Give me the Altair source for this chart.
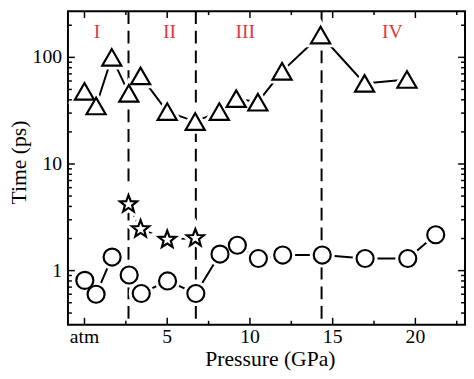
import altair as alt
import pandas as pd

# ---- data ----
tri_p = [0.0, 0.7, 1.65, 2.68, 3.39, 5.0, 6.69, 8.15, 9.17, 10.48, 11.94, 14.27, 16.93, 19.49]
tri_t = [48, 35, 100, 46, 67, 31, 25, 31, 41, 38, 74, 162, 57, 62]

star_p = [2.66, 3.39, 5.0, 6.7]
star_t = [4.2, 2.45, 1.95, 2.02]

circ_p = [0.02, 0.7, 1.67, 2.7, 3.43, 5.02, 6.73, 8.19, 9.24, 10.51, 11.98, 14.37, 16.96, 19.54, 21.23]
circ_t = [0.81, 0.60, 1.34, 0.91, 0.61, 0.80, 0.61, 1.43, 1.73, 1.30, 1.40, 1.40, 1.30, 1.30, 2.17]

boundaries = [2.66, 6.73, 14.33]

phase_labels = ["I", "II", "III", "IV"]
phase_x = [0.75, 5.14, 9.72, 18.61]
phase_y = [173, 173, 173, 173]

x_major = [0, 5, 10, 15, 20]
x_major_labels = ["atm", "5", "10", "15", "20"]
x_minor = [2.5, 7.5, 12.5, 17.5, 22.5]
y_major = [1, 10, 100]
y_major_labels = ["1", "10", "100"]
y_minor = [0.4, 0.5, 0.6, 0.7, 0.8, 0.9, 2, 3, 4, 5, 6, 7, 8, 9,
           20, 30, 40, 50, 60, 70, 80, 90, 200]

x_title = "Pressure (GPa)"
y_title = "Time (ps)"

# ---- layout ----
W, H = 404, 319
FONT = "'Liberation Serif', serif"

STAR = ("M0,-1L0.2469,-0.3398L0.9511,-0.309L0.3995,0.1298L0.5878,0.809L0,0.42"
        "L-0.5878,0.809L-0.3995,0.1298L-0.9511,-0.309L-0.2469,-0.3398Z")

xs = alt.Scale(domain=[-1, 23], nice=False, zero=False)
ys = alt.Scale(type="log", domain=[0.311, 271], nice=False)

tri = pd.DataFrame({"p": tri_p, "t": tri_t, "s": "tri"})
star = pd.DataFrame({"p": star_p, "t": star_t, "s": "star"})
circ = pd.DataFrame({"p": circ_p, "t": circ_t, "s": "circ"})
pts = pd.concat([tri, star, circ], ignore_index=True)

shape_scale = alt.Scale(domain=["tri", "star", "circ"], range=["triangle-up", STAR, "circle"])
size_scale = alt.Scale(domain=["tri", "star", "circ"], range=[380, 300, 300])

X = lambda: alt.X("p:Q", scale=xs, axis=None)
Y = lambda: alt.Y("t:Q", scale=ys, axis=None)

vlines = alt.Chart(pd.DataFrame({"p": boundaries})).mark_rule(
    color="black", strokeWidth=2, strokeDash=[13, 7]).encode(x=X())

line_tri = alt.Chart(tri).mark_line(color="black", strokeWidth=2).encode(x=X(), y=Y())
line_circ = alt.Chart(circ).mark_line(color="black", strokeWidth=2).encode(x=X(), y=Y())
line_star = alt.Chart(star).mark_line(color="black", strokeWidth=2, strokeDash=[5, 4]).encode(x=X(), y=Y())

halo = alt.Chart(pts).mark_point(filled=False, fill="white", fillOpacity=1, stroke="white",
                                 strokeWidth=8, opacity=1).encode(
    x=X(), y=Y(),
    shape=alt.Shape("s:N", scale=shape_scale, legend=None),
    size=alt.Size("s:N", scale=size_scale, legend=None))

markers = alt.Chart(pts).mark_point(filled=False, fill="white", fillOpacity=1, stroke="black",
                                    strokeWidth=2.2, opacity=1).encode(
    x=X(), y=Y(),
    shape=alt.Shape("s:N", scale=shape_scale, legend=None),
    size=alt.Size("s:N", scale=size_scale, legend=None))

def yticks(vals, length):
    d = pd.DataFrame({"t": vals})
    left = alt.Chart(d).mark_rule(color="black", strokeWidth=1.5).encode(
        y=Y(), x=alt.value(0), x2=alt.value(length))
    right = alt.Chart(d).mark_rule(color="black", strokeWidth=1.5).encode(
        y=Y(), x=alt.value(W), x2=alt.value(W - length))
    return [left, right]

def xticks(vals, length):
    d = pd.DataFrame({"p": vals})
    bottom = alt.Chart(d).mark_rule(color="black", strokeWidth=1.5).encode(
        x=X(), y=alt.value(H), y2=alt.value(H - length))
    top = alt.Chart(d).mark_rule(color="black", strokeWidth=1.5).encode(
        x=X(), y=alt.value(0), y2=alt.value(length))
    return [bottom, top]

ticks = yticks(y_major, 7) + yticks(y_minor, 4) + xticks(x_major, 7) + xticks(x_minor, 4)

xlab = alt.Chart(pd.DataFrame({"p": x_major, "lab": x_major_labels})).mark_text(
    font=FONT, fontSize=20, color="black", baseline="alphabetic", align="center").encode(
    x=X(), y=alt.value(H + 19), text="lab:N")

ylab = alt.Chart(pd.DataFrame({"t": y_major, "lab": y_major_labels})).mark_text(
    font=FONT, fontSize=20, color="black", baseline="middle", align="right").encode(
    y=Y(), x=alt.value(-6), text="lab:N")

xtitle = alt.Chart(pd.DataFrame({"lab": [x_title]})).mark_text(
    font=FONT, fontSize=22, color="black", baseline="alphabetic", align="center").encode(
    x=alt.value(W / 2 + 4), y=alt.value(H + 42), text="lab:N")

ytitle = alt.Chart(pd.DataFrame({"lab": [y_title]})).mark_text(
    font=FONT, fontSize=22, color="black", baseline="middle", align="center", angle=270).encode(
    x=alt.value(-50), y=alt.value(154), text="lab:N")

labels = alt.Chart(pd.DataFrame({"p": phase_x, "t": phase_y, "lab": phase_labels})).mark_text(
    font=FONT, fontSize=20, color="#e23a40", baseline="middle", align="center").encode(
    x=X(), y=Y(), text="lab:N")

chart = alt.layer(
    vlines, line_tri, line_circ, line_star, halo, markers, *ticks,
    xlab, ylab, xtitle, ytitle, labels
).properties(
    width=W, height=H,
    background="white",
    autosize=alt.AutoSizeParams(type="none"),
    padding={"left": 61, "top": 0, "right": 1, "bottom": 52},
).configure_view(stroke="black", strokeWidth=2)

chart.save("out.html", embed_options={"renderer": "svg", "actions": False})
